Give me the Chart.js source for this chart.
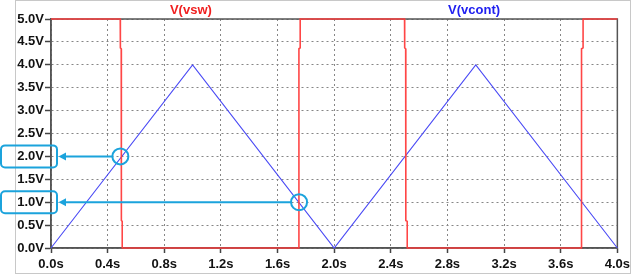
<!DOCTYPE html>
<html>
<head>
<meta charset="utf-8">
<script src="https://cdn.jsdelivr.net/npm/chart.js@4/dist/chart.umd.min.js"></script>
<style>
  html, body { margin: 0; padding: 0; background: #fff; }
  #wrap { width: 634px; height: 275px; }
</style>
</head>
<body>
<div id="wrap"><canvas id="plot" width="634" height="275"></canvas></div>
<script>
// V(vsw): comparator output, seconds / volts
const vswTime = [0, 0.489, 0.490, 0.496, 0.497, 0.503, 0.503, 1.751, 1.751, 1.760, 1.760, 2.497, 2.498, 2.505, 2.506, 2.516, 2.516, 3.747, 3.747, 3.758, 3.758, 4.0];
const vswVolt = [5, 5, 4.37, 4.35, 0.6, 0.58, 0, 0, 4.35, 4.37, 5, 5, 4.37, 4.35, 0.6, 0.58, 0, 0, 4.35, 4.37, 5, 5];

// V(vcont): triangle control voltage
const vcontTime = [0, 1.0, 2.0, 3.0, 4.0];
const vcontVolt = [0, 4.0, 0, 4.0, 0];

const xTickLabels = ['0.0s', '0.4s', '0.8s', '1.2s', '1.6s', '2.0s', '2.4s', '2.8s', '3.2s', '3.6s', '4.0s'];
const yTickLabels = ['0.0V', '0.5V', '1.0V', '1.5V', '2.0V', '2.5V', '3.0V', '3.5V', '4.0V', '4.5V', '5.0V'];

// marked crossings: [time, volt]
const marks = [[0.490, 2.0], [1.752, 1.0]];

const seriesNames = ['V(vsw)', 'V(vcont)'];

const tickFont = { family: 'Liberation Sans, Arial, sans-serif', size: 13, weight: 'bold' };
const cyan = '#1ba3dc';

function toPoints(xs, ys) {
    return xs.map((x, i) => ({ x: x, y: ys[i] }));
}

// frame, window border and series names
const framePlugin = {
    id: 'frame',
    beforeDraw(chart) {
        const ctx = chart.ctx;
        ctx.save();
        ctx.fillStyle = '#fff';
        ctx.fillRect(0, 0, chart.width, chart.height);
        ctx.strokeStyle = '#c8c8c8';
        ctx.lineWidth = 1;
        ctx.strokeRect(15.5, 0.5, 615, 273);
        ctx.restore();
    },
    beforeDatasetsDraw(chart) {
        const a = chart.chartArea;
        const ctx = chart.ctx;
        ctx.save();
        ctx.strokeStyle = '#555';
        ctx.lineWidth = 1.5;
        ctx.strokeRect(a.left, a.top, a.right - a.left, a.bottom - a.top);
        ctx.restore();
    },
    afterDraw(chart) {
        const ctx = chart.ctx;
        const a = chart.chartArea;
        const w = a.right - a.left;
        ctx.save();
        ctx.font = 'bold 13px "Liberation Sans", Arial, sans-serif';
        ctx.textAlign = 'center';
        ctx.textBaseline = 'middle';
        ctx.fillStyle = '#f02020';
        ctx.fillText(seriesNames[0], a.left + w * 0.247, 10);
        ctx.fillStyle = '#2020f0';
        ctx.fillText(seriesNames[1], a.left + w * 0.747, 10);
        ctx.restore();
    }
};

// cyan circles, arrows and boxes around the read-off values
const markPlugin = {
    id: 'marks',
    afterDatasetsDraw(chart) {
        const ctx = chart.ctx;
        const xs = chart.scales.x, ys = chart.scales.y;
        ctx.save();
        ctx.strokeStyle = cyan;
        ctx.fillStyle = cyan;
        ctx.lineWidth = 2;
        marks.forEach(m => {
            const px = xs.getPixelForValue(m[0]);
            const py = ys.getPixelForValue(m[1]);
            const r = 8;
            ctx.beginPath();
            ctx.arc(px, py, r, 0, Math.PI * 2);
            ctx.stroke();
            // arrow line
            ctx.beginPath();
            ctx.moveTo(px - r, py);
            ctx.lineTo(64, py);
            ctx.stroke();
            // arrow head
            ctx.beginPath();
            ctx.moveTo(58.5, py);
            ctx.lineTo(66, py - 4);
            ctx.lineTo(66, py + 4);
            ctx.closePath();
            ctx.fill();
            // box around the label
            ctx.beginPath();
            ctx.roundRect(1, py - 11, 56, 22, 4);
            ctx.stroke();
        });
        ctx.restore();
    }
};

new Chart(document.getElementById('plot'), {
    type: 'line',
    data: {
        datasets: [{
            label: seriesNames[0],
            data: toPoints(vswTime, vswVolt),
            borderColor: 'rgba(255, 60, 60, 0.95)',
            borderWidth: 1.6,
            pointRadius: 0,
            tension: 0,
            clip: 3
        }, {
            label: seriesNames[1],
            data: toPoints(vcontTime, vcontVolt),
            borderColor: '#4a4af5',
            borderWidth: 1.1,
            pointRadius: 0,
            tension: 0,
            clip: 3
        }]
    },
    options: {
        responsive: false,
        animation: false,
        layout: { padding: { left: 0, top: 19, right: 13, bottom: 0 } },
        plugins: {
            legend: { display: false },
            tooltip: { enabled: false }
        },
        scales: {
            x: {
                type: 'linear',
                min: 0,
                max: 4,
                afterFit(scale) { scale.height = 27; },
                ticks: {
                    stepSize: 0.4,
                    maxRotation: 0,
                    autoSkip: false,
                    padding: 4,
                    color: '#111',
                    font: tickFont,
                    callback: (v, i) => xTickLabels[i]
                },
                grid: {
                    color: '#868686',
                    lineWidth: 1,
                    tickLength: 5,
                    tickColor: '#444',
                    tickWidth: 1.5,
                    tickBorderDash: [0, 0]
                },
                border: { display: true, color: '#555', width: 1.5, dash: [2, 3] }
            },
            y: {
                type: 'linear',
                min: 0,
                max: 5,
                afterFit(scale) { scale.width = 51; },
                ticks: {
                    stepSize: 0.5,
                    padding: 1,
                    color: '#111',
                    font: tickFont,
                    callback: (v, i) => yTickLabels[i]
                },
                grid: {
                    color: '#868686',
                    lineWidth: 1,
                    tickLength: 6,
                    tickColor: '#444',
                    tickWidth: 1.5,
                    tickBorderDash: [0, 0]
                },
                border: { display: true, color: '#555', width: 1.5, dash: [2, 3] }
            }
        }
    },
    plugins: [framePlugin, markPlugin]
});
</script>
</body>
</html>
